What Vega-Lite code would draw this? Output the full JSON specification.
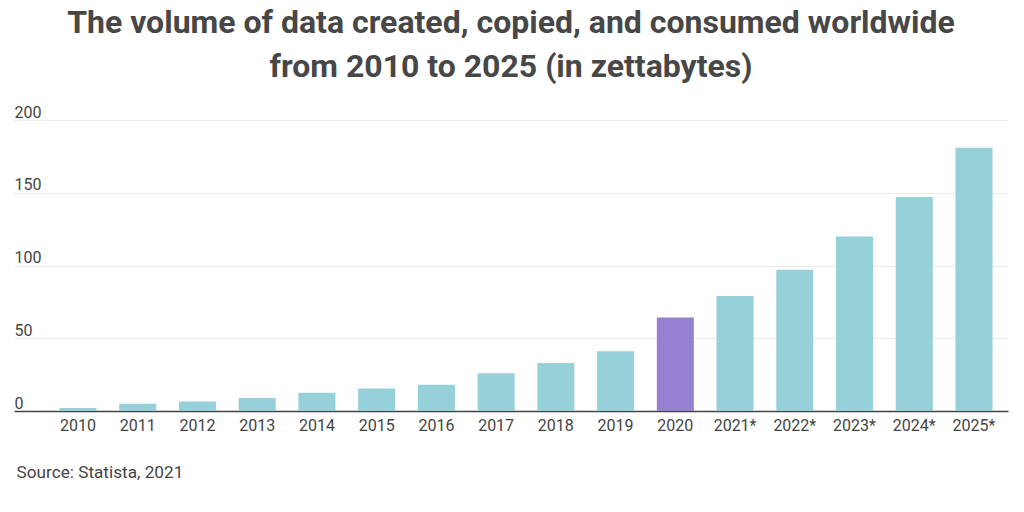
{
  "$schema": "https://vega.github.io/schema/vega-lite/v6.json",
  "autosize": "none",
  "width": 994,
  "height": 291,
  "padding": {"left": 14, "top": 120, "right": 16, "bottom": 101},
  "background": "white",
  "config": {
    "font": "Roboto",
    "view": {"stroke": null}
  },
  "title": {
    "text": ["The volume of data created, copied, and consumed worldwide", "from 2010 to 2025 (in zettabytes)"],
    "fontSize": 32,
    "fontWeight": "bold",
    "color": "#474747",
    "lineHeight": 44,
    "anchor": "middle",
    "offset": 20
  },
  "data": {
    "values": [
      {"year": "2010", "value": 2, "hl": "no"},
      {"year": "2011", "value": 5, "hl": "no"},
      {"year": "2012", "value": 6.5, "hl": "no"},
      {"year": "2013", "value": 9, "hl": "no"},
      {"year": "2014", "value": 12.5, "hl": "no"},
      {"year": "2015", "value": 15.5, "hl": "no"},
      {"year": "2016", "value": 18, "hl": "no"},
      {"year": "2017", "value": 26, "hl": "no"},
      {"year": "2018", "value": 33, "hl": "no"},
      {"year": "2019", "value": 41, "hl": "no"},
      {"year": "2020", "value": 64.2, "hl": "yes"},
      {"year": "2021*", "value": 79, "hl": "no"},
      {"year": "2022*", "value": 97, "hl": "no"},
      {"year": "2023*", "value": 120, "hl": "no"},
      {"year": "2024*", "value": 147, "hl": "no"},
      {"year": "2025*", "value": 181, "hl": "no"}
    ]
  },
  "mark": {"type": "bar"},
  "encoding": {
    "x": {
      "field": "year",
      "type": "nominal",
      "sort": null,
      "scale": {"paddingInner": 0.38, "paddingOuter": 0.51, "align": 0.746},
      "axis": {
        "title": "Source: Statista, 2021",
        "titleFontSize": 17.2,
        "titleFontWeight": "normal",
        "titleColor": "#444444",
        "titleAnchor": "start",
        "titleAlign": "left",
        "titleBaseline": "alphabetic",
        "titleX": 2,
        "titleY": 66,
        "labelAngle": 0,
        "labelFontSize": 16,
        "labelColor": "#444444",
        "labelPadding": 6,
        "ticks": false,
        "domainColor": "#444444",
        "domainWidth": 1.5
      }
    },
    "y": {
      "field": "value",
      "type": "quantitative",
      "scale": {"domain": [0, 200], "nice": false},
      "axis": {
        "title": null,
        "values": [0, 50, 100, 150, 200],
        "labelAlign": "left",
        "labelBaseline": "bottom",
        "labelPadding": 0,
        "labelDy": -8,
        "labelFontSize": 16,
        "labelColor": "#444444",
        "ticks": false,
        "domain": false,
        "grid": true,
        "gridColor": "#ececec",
        "gridWidth": 1
      }
    },
    "color": {
      "field": "hl",
      "type": "nominal",
      "scale": {"domain": ["no", "yes"], "range": ["#96d0d9", "#9580d2"]},
      "legend": null
    }
  }
}
